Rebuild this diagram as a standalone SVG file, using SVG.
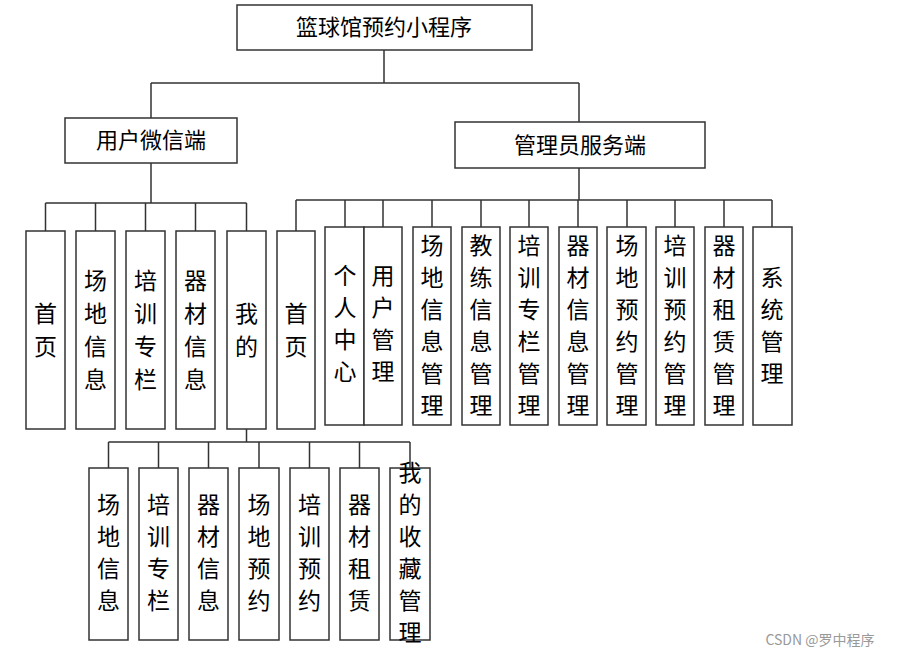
<svg xmlns="http://www.w3.org/2000/svg" width="903" height="657" viewBox="0 0 903 657">
<style>
rect{fill:#fff;stroke:#333;stroke-width:1.5}
text{font-family:"Noto Sans CJK SC",sans-serif;fill:#000;text-anchor:middle}
.v{font-size:23px}
.h{font-size:22px}
#connectors path{fill:none;stroke:#333;stroke-width:1.5}
</style>
<rect x="0" y="0" width="903" height="657" style="fill:#fff;stroke:none"/>
<g id="connectors">
<path d="M384 50V83M151 83H579M151 83V118M579 83V122"/>
<path d="M151 163V203M45.5 203H246.5M45.5 203V231M95.5 203V231M145.5 203V231M195.5 203V231M246.5 203V231"/>
<path d="M579 168V200M296 200H772M296 200V231M345 200V227M383 200V227M432 200V227M481 200V227M529 200V227M578 200V227M627 200V227M675 200V227M724 200V227M772 200V227"/>
<path d="M246.5 429V442M108.5 442H410M108.5 442V468M158.5 442V468M208.5 442V468M259 442V468M309.5 442V468M359.5 442V468M410 442V468"/>
</g>
<g id="root"><rect x="237" y="5" width="295" height="45"/><text class="h" x="384" y="35">篮球馆预约小程序</text></g>
<g id="user"><rect x="65" y="118" width="172" height="45"/><text class="h" x="151" y="148">用户微信端</text></g>
<g id="admin"><rect x="455" y="122" width="250" height="46"/><text class="h" x="580" y="153">管理员服务端</text></g>

<g id="u1"><rect x="26" y="231" width="39" height="198"/><text class="v" x="45.5" y="322">首<tspan x="45.5" dy="33">页</tspan></text></g>
<g id="u2"><rect x="76" y="231" width="39" height="198"/><text class="v" x="95.5" y="289">场<tspan x="95.5" dy="33">地</tspan><tspan x="95.5" dy="33">信</tspan><tspan x="95.5" dy="33">息</tspan></text></g>
<g id="u3"><rect x="126" y="231" width="39" height="198"/><text class="v" x="145.5" y="289">培<tspan x="145.5" dy="33">训</tspan><tspan x="145.5" dy="33">专</tspan><tspan x="145.5" dy="33">栏</tspan></text></g>
<g id="u4"><rect x="176" y="231" width="39" height="198"/><text class="v" x="195.5" y="289">器<tspan x="195.5" dy="33">材</tspan><tspan x="195.5" dy="33">信</tspan><tspan x="195.5" dy="33">息</tspan></text></g>
<g id="u5"><rect x="227" y="231" width="39" height="198"/><text class="v" x="246.5" y="322">我<tspan x="246.5" dy="33">的</tspan></text></g>

<g id="a1"><rect x="277" y="231" width="38" height="198"/><text class="v" x="296" y="322">首<tspan x="296" dy="33">页</tspan></text></g>
<g id="a2"><rect x="325" y="227" width="39" height="198"/><text class="v" x="345" y="284">个<tspan x="345" dy="32">人</tspan><tspan x="345" dy="32">中</tspan><tspan x="345" dy="32">心</tspan></text></g>
<g id="a3"><rect x="364" y="227" width="38" height="198"/><text class="v" x="383" y="284">用<tspan x="383" dy="32">户</tspan><tspan x="383" dy="32">管</tspan><tspan x="383" dy="32">理</tspan></text></g>
<g id="a4"><rect x="413" y="227" width="38" height="198"/><text class="v" x="432" y="254">场<tspan x="432" dy="32">地</tspan><tspan x="432" dy="32">信</tspan><tspan x="432" dy="32">息</tspan><tspan x="432" dy="32">管</tspan><tspan x="432" dy="32">理</tspan></text></g>
<g id="a5"><rect x="462" y="227" width="38" height="198"/><text class="v" x="481" y="254">教<tspan x="481" dy="32">练</tspan><tspan x="481" dy="32">信</tspan><tspan x="481" dy="32">息</tspan><tspan x="481" dy="32">管</tspan><tspan x="481" dy="32">理</tspan></text></g>
<g id="a6"><rect x="510" y="227" width="38" height="198"/><text class="v" x="529" y="254">培<tspan x="529" dy="32">训</tspan><tspan x="529" dy="32">专</tspan><tspan x="529" dy="32">栏</tspan><tspan x="529" dy="32">管</tspan><tspan x="529" dy="32">理</tspan></text></g>
<g id="a7"><rect x="559" y="227" width="38" height="198"/><text class="v" x="578" y="254">器<tspan x="578" dy="32">材</tspan><tspan x="578" dy="32">信</tspan><tspan x="578" dy="32">息</tspan><tspan x="578" dy="32">管</tspan><tspan x="578" dy="32">理</tspan></text></g>
<g id="a8"><rect x="607" y="227" width="39" height="198"/><text class="v" x="627" y="254">场<tspan x="627" dy="32">地</tspan><tspan x="627" dy="32">预</tspan><tspan x="627" dy="32">约</tspan><tspan x="627" dy="32">管</tspan><tspan x="627" dy="32">理</tspan></text></g>
<g id="a9"><rect x="656" y="227" width="38" height="198"/><text class="v" x="675" y="254">培<tspan x="675" dy="32">训</tspan><tspan x="675" dy="32">预</tspan><tspan x="675" dy="32">约</tspan><tspan x="675" dy="32">管</tspan><tspan x="675" dy="32">理</tspan></text></g>
<g id="a10"><rect x="705" y="227" width="38" height="198"/><text class="v" x="724" y="254">器<tspan x="724" dy="32">材</tspan><tspan x="724" dy="32">租</tspan><tspan x="724" dy="32">赁</tspan><tspan x="724" dy="32">管</tspan><tspan x="724" dy="32">理</tspan></text></g>
<g id="a11"><rect x="753" y="227" width="39" height="198"/><text class="v" x="772" y="286">系<tspan x="772" dy="32">统</tspan><tspan x="772" dy="32">管</tspan><tspan x="772" dy="32">理</tspan></text></g>

<g id="m1"><rect x="89" y="468" width="39" height="172"/><text class="v" x="108.5" y="513">场<tspan x="108.5" dy="32">地</tspan><tspan x="108.5" dy="32">信</tspan><tspan x="108.5" dy="32">息</tspan></text></g>
<g id="m2"><rect x="139" y="468" width="39" height="172"/><text class="v" x="158.5" y="513">培<tspan x="158.5" dy="32">训</tspan><tspan x="158.5" dy="32">专</tspan><tspan x="158.5" dy="32">栏</tspan></text></g>
<g id="m3"><rect x="189" y="468" width="39" height="172"/><text class="v" x="208.5" y="513">器<tspan x="208.5" dy="32">材</tspan><tspan x="208.5" dy="32">信</tspan><tspan x="208.5" dy="32">息</tspan></text></g>
<g id="m4"><rect x="239" y="468" width="40" height="172"/><text class="v" x="259" y="513">场<tspan x="259" dy="32">地</tspan><tspan x="259" dy="32">预</tspan><tspan x="259" dy="32">约</tspan></text></g>
<g id="m5"><rect x="290" y="468" width="39" height="172"/><text class="v" x="309.5" y="513">培<tspan x="309.5" dy="32">训</tspan><tspan x="309.5" dy="32">预</tspan><tspan x="309.5" dy="32">约</tspan></text></g>
<g id="m6"><rect x="340" y="468" width="39" height="172"/><text class="v" x="359.5" y="513">器<tspan x="359.5" dy="32">材</tspan><tspan x="359.5" dy="32">租</tspan><tspan x="359.5" dy="32">赁</tspan></text></g>
<g id="m7"><rect x="390" y="468" width="40" height="172"/><text class="v" x="410" y="481">我<tspan x="410" dy="32">的</tspan><tspan x="410" dy="32">收</tspan><tspan x="410" dy="32">藏</tspan><tspan x="410" dy="32">管</tspan><tspan x="410" dy="32">理</tspan></text></g>

<text x="820" y="645" style="font-size:14px;fill:#999">CSDN @罗中程序</text>
</svg>
